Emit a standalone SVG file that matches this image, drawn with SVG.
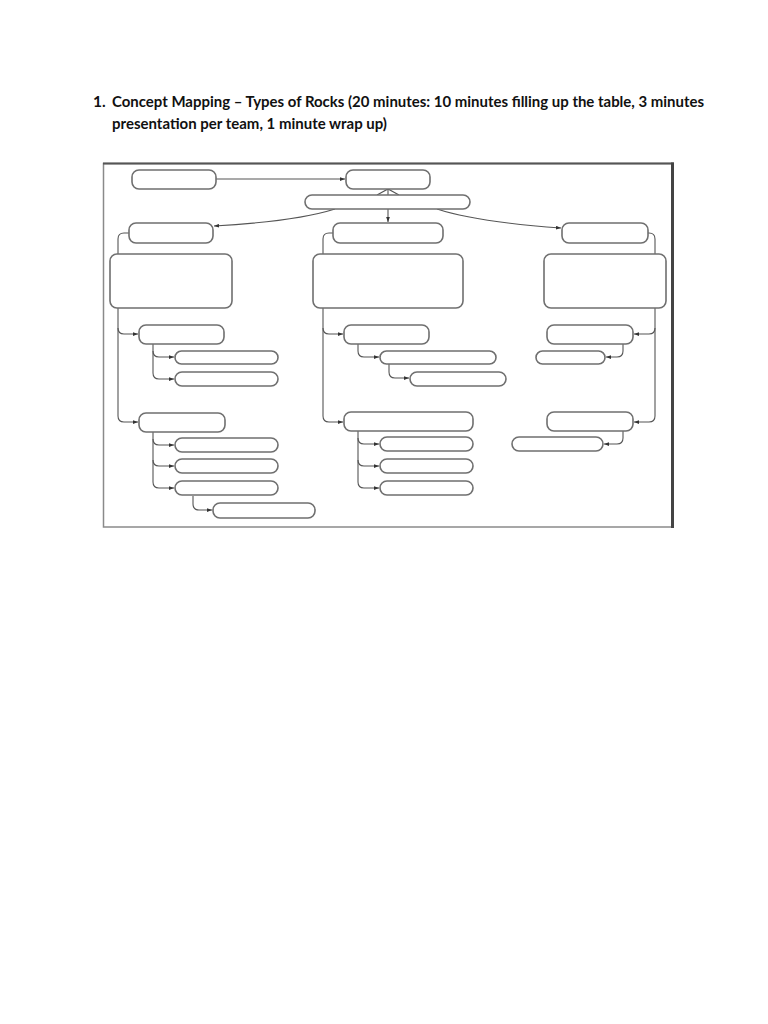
<svg xmlns="http://www.w3.org/2000/svg" width="768" height="1024" viewBox="0 0 768 1024">
<style>
.title{font-family:Lato,"Open Sans","Liberation Sans",sans-serif;font-weight:bold;font-size:15.5px;fill:#111}
.box{fill:#fff;stroke:#6f6f6f;stroke-width:1.6}
.con{fill:none;stroke:#555;stroke-width:1.1}
.arr{marker-end:url(#ah)}
</style>
<defs>
<marker id="ah" viewBox="0 0 8 6" refX="8" refY="3" markerWidth="5" markerHeight="4" markerUnits="userSpaceOnUse" orient="auto">
<path d="M0,0 L8,3 L0,6 Z" fill="#333"/>
</marker>
</defs>
<rect x="0" y="0" width="768" height="1024" fill="#fff"/>
<g id="title">
<text class="title" x="93" y="107">1.</text>
<text class="title" x="112" y="107" textLength="592" lengthAdjust="spacingAndGlyphs">Concept Mapping – Types of Rocks (20 minutes: 10 minutes filling up the table, 3 minutes</text>
<text class="title" x="112" y="129" textLength="275" lengthAdjust="spacingAndGlyphs">presentation per team, 1 minute wrap up)</text>
</g>
<g id="frame">
<rect x="103.5" y="163.5" width="569" height="363.5" fill="#fff" stroke="#8a8a8a" stroke-width="1.5"/>
<line x1="103" y1="163.5" x2="674" y2="163.5" stroke="#555" stroke-width="2"/>
<line x1="672.5" y1="162.5" x2="672.5" y2="528" stroke="#444" stroke-width="3"/>
</g>
<g id="connectors">
<path class="con arr" d="M216,179 H345"/>
<path class="con arr" d="M388,209 V222"/>
<path class="con" d="M377,195 L388,189 L399,195 M388,189 V195"/>
<path class="con arr" d="M335,209 C300,220 250,224 214,226"/>
<path class="con arr" d="M437,209 C470,220 520,225 561,228"/>
<path class="con arr" d="M129,233 H124 Q118,233 118,239 V416 Q118,422 124,422 H138"/>
<path class="con arr" d="M118,328 Q118,334 124,334 H138"/>
<path class="con arr" d="M153,344 V373 Q153,379 159,379 H174"/>
<path class="con arr" d="M153,351 Q153,357 159,357 H174"/>
<path class="con arr" d="M153,432 V482 Q153,488 159,488 H174"/>
<path class="con arr" d="M153,439 Q153,445 159,445 H174"/>
<path class="con arr" d="M153,460 Q153,466 159,466 H174"/>
<path class="con arr" d="M193,496 V504 Q193,510 199,510 H212"/>
<path class="con arr" d="M333,233 H329 Q323,233 323,239 V416 Q323,422 329,422 H343"/>
<path class="con arr" d="M323,328 Q323,334 329,334 H343"/>
<path class="con arr" d="M358,344 V351 Q358,357 364,357 H379"/>
<path class="con arr" d="M389,364 V372 Q389,378 395,378 H409"/>
<path class="con arr" d="M358,431 V482 Q358,488 364,488 H379"/>
<path class="con arr" d="M358,438 Q358,444 364,444 H379"/>
<path class="con arr" d="M358,460 Q358,466 364,466 H379"/>
<path class="con arr" d="M648,233 H649 Q655,233 655,239 V416 Q655,422 649,422 H634"/>
<path class="con arr" d="M655,328 Q655,334 649,334 H634"/>
<path class="con arr" d="M623,344 V351 Q623,357 617,357 H606"/>
<path class="con arr" d="M623,431 V438 Q623,444 617,444 H604"/>
</g>
<g id="n-top-left"><rect class="box" x="132" y="170" width="84" height="19" rx="7"/></g>
<g id="n-top-center"><rect class="box" x="346" y="170" width="84" height="19" rx="7"/></g>
<g id="n-bar"><rect class="box" x="305" y="195" width="165" height="14" rx="7"/></g>
<g id="n-left-head"><rect class="box" x="129" y="223" width="84" height="20" rx="7"/></g>
<g id="n-left-big"><rect class="box" x="110" y="254" width="122" height="54" rx="7"/></g>
<g id="n-left-b"><rect class="box" x="139" y="325" width="85" height="19" rx="7"/></g>
<g id="n-left-b1"><rect class="box" x="175" y="351" width="103" height="13" rx="6.5"/></g>
<g id="n-left-b2"><rect class="box" x="175" y="372" width="103" height="14" rx="7"/></g>
<g id="n-left-d"><rect class="box" x="139" y="413" width="86" height="19" rx="7"/></g>
<g id="n-left-d1"><rect class="box" x="175" y="438" width="103" height="14" rx="7"/></g>
<g id="n-left-d2"><rect class="box" x="175" y="459" width="103" height="14" rx="7"/></g>
<g id="n-left-d3"><rect class="box" x="175" y="481" width="103" height="14" rx="7"/></g>
<g id="n-left-d3a"><rect class="box" x="213" y="503" width="102" height="15" rx="7"/></g>
<g id="n-mid-head"><rect class="box" x="333" y="223" width="110" height="20" rx="7"/></g>
<g id="n-mid-big"><rect class="box" x="313" y="254" width="150" height="54" rx="7"/></g>
<g id="n-mid-g"><rect class="box" x="344" y="325" width="85" height="19" rx="7"/></g>
<g id="n-mid-g1"><rect class="box" x="380" y="351" width="116" height="13" rx="6.5"/></g>
<g id="n-mid-g1a"><rect class="box" x="410" y="372" width="96" height="14" rx="7"/></g>
<g id="n-mid-i"><rect class="box" x="344" y="412" width="129" height="19" rx="7"/></g>
<g id="n-mid-i1"><rect class="box" x="380" y="437" width="93" height="14" rx="7"/></g>
<g id="n-mid-i2"><rect class="box" x="380" y="459" width="93" height="14" rx="7"/></g>
<g id="n-mid-i3"><rect class="box" x="380" y="481" width="93" height="14" rx="7"/></g>
<g id="n-right-head"><rect class="box" x="562" y="223" width="86" height="20" rx="7"/></g>
<g id="n-right-big"><rect class="box" x="544" y="254" width="122" height="54" rx="7"/></g>
<g id="n-right-s"><rect class="box" x="547" y="325" width="86" height="19" rx="7"/></g>
<g id="n-right-s1"><rect class="box" x="536" y="351" width="69" height="13" rx="6.5"/></g>
<g id="n-right-u"><rect class="box" x="547" y="412" width="86" height="19" rx="7"/></g>
<g id="n-right-u1"><rect class="box" x="512" y="437" width="91" height="14" rx="7"/></g>
</svg>
